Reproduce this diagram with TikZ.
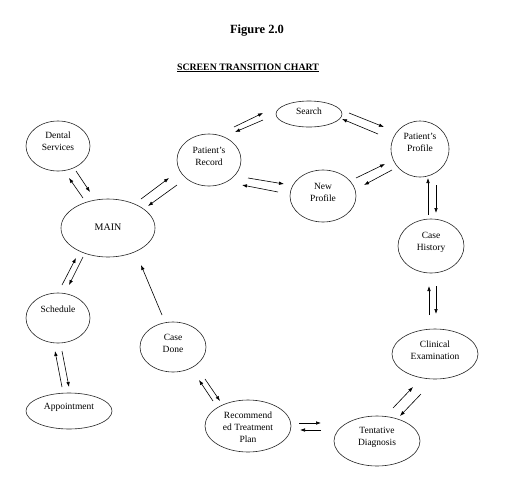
\documentclass[tikz,border=0pt]{standalone}
\usepackage{fontspec}
\setmainfont{Liberation Serif}
\usetikzlibrary{shapes.geometric,calc,arrows.meta}
\tikzset{
  st/.style={draw=black!85, line width=0.6pt, ellipse, inner sep=0pt},
  txt/.style={align=center, inner sep=0pt, font=\fontsize{9.5}{12}\selectfont},
  arr/.style={-{Latex[length=5pt,width=3.6pt]}, line width=0.6pt},
}
\newcommand{\st}[5]{\node[st, minimum width=#4pt, minimum height=#5pt] (#1) at (#2,#3) {};}
\begin{document}
\begin{tikzpicture}[x=1pt,y=-1pt]
\useasboundingbox (0,0) rectangle (512,483);
\fill[white] (0,0) rectangle (512,483);
% titles
\node[inner sep=0pt, font=\bfseries\fontsize{12.5}{14}\selectfont] (fig) at (257,31) {Figure 2.0};
\node[inner sep=0pt, font=\bfseries\fontsize{9.8}{12}\selectfont] (title) at (248,68) {\underline{SCREEN TRANSITION CHART}};
% states
\st{dental}{58}{146}{64}{50}
\st{record}{209}{160}{64}{52}
\st{main}{108}{228}{94}{58}
\st{search}{309}{114}{66}{26}
\st{profile}{420}{149}{58}{56}
\st{newp}{323}{196}{66}{52}
\st{hist}{431}{246}{66}{54}
\st{sched}{58}{318}{64}{50}
\st{appt}{69}{411}{86}{36}
\st{done}{173}{347}{66}{50}
\st{rec}{248}{426}{86}{52}
\st{clin}{435}{354}{86}{50}
\st{tent}{377}{441}{86}{50}
% labels
\node[txt] (dentalt) at ($(dental)+(0,-5)$) {Dental\\Services};
\node[txt] (recordt) at ($(record)+(0,-4)$) {Patient’s\\Record};
\node[txt, font=\fontsize{10}{12}\selectfont] (maint) at ($(main)+(0,-1)$) {MAIN};
\node[txt] (searcht) at ($(search)+(0,-3)$) {Search};
\node[txt] (profilet) at ($(profile)+(0,-7)$) {Patient’s\\Profile};
\node[txt] (newpt) at ($(newp)+(0,-4)$) {New\\Profile};
\node[txt] (histt) at ($(hist)+(0,-4)$) {Case\\History};
\node[txt] (schedt) at ($(sched)+(0,-9)$) {Schedule};
\node[txt] (apptt) at ($(appt)+(0,-4)$) {Appointment};
\node[txt] (donet) at ($(done)+(0,-4)$) {Case\\Done};
\node[txt] (rect) at ($(rec)+(0,1)$) {Recommend\\ed Treatment\\Plan};
\node[txt] (clint) at ($(clin)+(0,-4)$) {Clinical\\Examination};
\node[txt] (tentt) at ($(tent)+(0,-4)$) {Tentative\\Diagnosis};
% connectors
\draw[arr] ($(main)+(-25,-30)$) -- ($(dental)+(11,32)$);
\draw[arr] ($(dental)+(18,25)$) -- ($(main)+(-18,-36)$);
\draw[arr] ($(main)+(33,-29)$) -- ($(record)+(-40,18)$);
\draw[arr] ($(record)+(-32,25)$) -- ($(main)+(40,-22)$);
\draw[arr] ($(record)+(25,-33)$) -- ($(search)+(-46,-1)$);
\draw[arr] ($(search)+(-46,6)$) -- ($(record)+(26,-28)$);
\draw[arr] ($(search)+(40,-1)$) -- ($(profile)+(-36,-22)$);
\draw[arr] ($(profile)+(-42,-15)$) -- ($(search)+(33,5)$);
\draw[arr] ($(record)+(39,18)$) -- ($(newp)+(-39,-12)$);
\draw[arr] ($(newp)+(-45,-4)$) -- ($(record)+(33,25)$);
\draw[arr] ($(newp)+(33,-18)$) -- ($(profile)+(-35,15)$);
\draw[arr] ($(profile)+(-28,21)$) -- ($(newp)+(41,-11)$);
\draw[arr] ($(hist)+(-3,-31)$) -- ($(profile)+(8,29)$);
\draw[arr] ($(profile)+(16,36)$) -- ($(hist)+(5,-33)$);
\draw[arr] ($(clin)+(-6,-39)$) -- ($(hist)+(-2,40)$);
\draw[arr] ($(hist)+(5,40)$) -- ($(clin)+(1,-40)$);
\draw[arr] ($(tent)+(16,-33)$) -- ($(clin)+(-22,33)$);
\draw[arr] ($(clin)+(-14,40)$) -- ($(tent)+(23,-25)$);
\draw[arr] ($(rec)+(51,-3)$) -- ($(tent)+(-56,-18)$);
\draw[arr] ($(tent)+(-56,-11)$) -- ($(rec)+(52,4)$);
\draw[arr] ($(rec)+(-35,-25)$) -- ($(done)+(26,33)$);
\draw[arr] ($(done)+(32,32)$) -- ($(rec)+(-28,-25)$);
\draw[arr] ($(done)+(-11,-32)$) -- ($(main)+(33,37)$);
\draw[arr] ($(sched)+(4,-33)$) -- ($(main)+(-32,30)$);
\draw[arr] ($(main)+(-25,29)$) -- ($(sched)+(11,-33)$);
\draw[arr] ($(appt)+(-7,-24)$) -- ($(sched)+(-3,33)$);
\draw[arr] ($(sched)+(4,33)$) -- ($(appt)+(0,-24)$);
\end{tikzpicture}
\end{document}
